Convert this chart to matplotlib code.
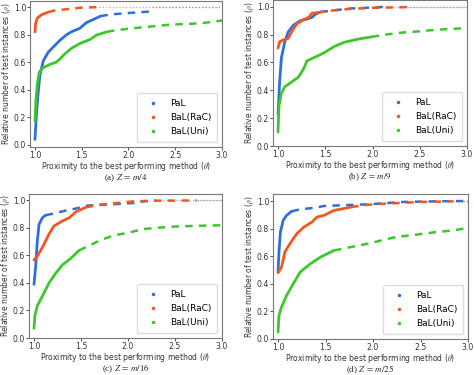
import matplotlib
matplotlib.use("Agg")
import matplotlib.pyplot as plt
from matplotlib.lines import Line2D

plt.rcParams['mathtext.fontset'] = 'stix'

series_names = ["PaL", "BaL(RaC)", "BaL(Uni)"]
colors = ["#2f6fdc", "#f2581e", "#3cc82a"]

# Panel (a) Z = m/4
a_pal_x = [1.0, 1.018, 1.036, 1.054, 1.09, 1.14, 1.196, 1.27, 1.34, 1.39, 1.48, 1.55, 1.625, 1.70, 1.80, 1.98, 2.2, 2.23, 2.25]
a_pal_y = [0.037, 0.245, 0.39, 0.51, 0.61, 0.67, 0.71, 0.76, 0.80, 0.82, 0.846, 0.887, 0.91, 0.934, 0.946, 0.956, 0.966, 0.97, 1.0]
a_rac_x = [1.0, 1.007, 1.025, 1.07, 1.14, 1.196, 1.34, 1.48, 1.68]
a_rac_y = [0.82, 0.88, 0.92, 0.944, 0.963, 0.973, 0.985, 0.995, 1.0]
a_uni_x = [1.0, 1.01, 1.025, 1.046, 1.09, 1.16, 1.23, 1.27, 1.32, 1.39, 1.48, 1.59, 1.66, 1.77, 1.875, 2.05, 2.23, 2.41, 2.59, 2.77, 3.0]
a_uni_y = [0.17, 0.32, 0.44, 0.527, 0.56, 0.583, 0.60, 0.625, 0.66, 0.70, 0.735, 0.765, 0.797, 0.82, 0.833, 0.846, 0.858, 0.87, 0.877, 0.882, 0.902]

# Panel (b) Z = m/9
b_pal_x = [1.0, 1.018, 1.036, 1.072, 1.108, 1.16, 1.234, 1.306, 1.36, 1.396, 1.45, 1.595, 1.775, 2.15]
b_pal_y = [0.227, 0.47, 0.634, 0.75, 0.82, 0.866, 0.90, 0.912, 0.924, 0.947, 0.963, 0.975, 0.988, 1.0]
b_rac_x = [1.0, 1.018, 1.054, 1.108, 1.144, 1.198, 1.27, 1.324, 1.36, 1.414, 1.595, 1.775, 2.03, 2.39]
b_rac_y = [0.703, 0.75, 0.761, 0.773, 0.82, 0.877, 0.907, 0.924, 0.954, 0.958, 0.975, 0.986, 0.993, 0.998]
b_uni_x = [1.0, 1.01, 1.036, 1.072, 1.144, 1.216, 1.27, 1.306, 1.378, 1.486, 1.595, 1.70, 1.847, 1.99, 2.135, 2.315, 2.495, 2.676, 2.856, 3.0]
b_uni_y = [0.10, 0.285, 0.38, 0.426, 0.46, 0.495, 0.553, 0.611, 0.634, 0.669, 0.715, 0.745, 0.768, 0.784, 0.80, 0.815, 0.824, 0.835, 0.842, 0.847]

# Panel (c) Z = m/16
c_pal_x = [1.0, 1.018, 1.036, 1.054, 1.09, 1.125, 1.196, 1.34, 1.446, 1.55, 1.875, 2.05, 2.16, 2.30]
c_pal_y = [0.39, 0.52, 0.709, 0.827, 0.875, 0.893, 0.903, 0.927, 0.941, 0.962, 0.974, 0.981, 0.993, 1.0]
c_rac_x = [1.0, 1.036, 1.09, 1.16, 1.214, 1.30, 1.375, 1.446, 1.55, 1.70, 1.875, 2.05, 2.23, 2.73]
c_rac_y = [0.567, 0.595, 0.66, 0.756, 0.815, 0.85, 0.874, 0.917, 0.95, 0.969, 0.981, 0.993, 0.998, 1.0]
c_uni_x = [1.0, 1.01, 1.036, 1.09, 1.16, 1.23, 1.30, 1.39, 1.48, 1.59, 1.70, 1.84, 2.02, 2.16, 2.34, 2.52, 2.70, 3.0]
c_uni_y = [0.07, 0.165, 0.235, 0.306, 0.40, 0.47, 0.53, 0.578, 0.637, 0.673, 0.709, 0.744, 0.768, 0.792, 0.803, 0.811, 0.815, 0.82]

# Panel (d) Z = m/25
d_pal_x = [1.0, 1.01, 1.025, 1.054, 1.09, 1.143, 1.233, 1.376, 1.484, 1.663, 1.95, 2.31, 2.667, 2.95]
d_pal_y = [0.485, 0.63, 0.775, 0.86, 0.896, 0.925, 0.94, 0.95, 0.964, 0.969, 0.976, 0.993, 0.998, 1.0]
d_rac_x = [1.0, 1.036, 1.072, 1.125, 1.197, 1.27, 1.358, 1.41, 1.484, 1.59, 1.77, 1.95, 2.13, 2.49, 2.846]
d_rac_y = [0.48, 0.52, 0.63, 0.69, 0.763, 0.81, 0.848, 0.884, 0.896, 0.932, 0.956, 0.973, 0.981, 0.993, 0.998]
d_uni_x = [1.0, 1.01, 1.036, 1.09, 1.16, 1.233, 1.34, 1.448, 1.59, 1.77, 1.95, 2.09, 2.237, 2.45, 2.667, 2.846, 2.99]
d_uni_y = [0.05, 0.17, 0.23, 0.315, 0.40, 0.485, 0.545, 0.594, 0.642, 0.667, 0.691, 0.715, 0.739, 0.756, 0.775, 0.787, 0.804]

captions = [r"(a) $Z\,=\,m/4$", r"(b) $Z\,=\,m/9$", r"(c) $Z\,=\,m/16$", r"(d) $Z\,=\,m/25$"]
xticks = [1.0, 1.5, 2.0, 2.5, 3.0]
yticks = [0.0, 0.2, 0.4, 0.6, 0.8, 1.0]
xlabel = r"Proximity to the best performing method ($\theta$)"
ylabel = r"Relative number of test instances ($\rho$)"

panels = [
    [(a_pal_x, a_pal_y), (a_rac_x, a_rac_y), (a_uni_x, a_uni_y)],
    [(b_pal_x, b_pal_y), (b_rac_x, b_rac_y), (b_uni_x, b_uni_y)],
    [(c_pal_x, c_pal_y), (c_rac_x, c_rac_y), (c_uni_x, c_uni_y)],
    [(d_pal_x, d_pal_y), (d_rac_x, d_rac_y), (d_uni_x, d_uni_y)],
]
# x beyond which the markers become sparse (drawn dashed)
dense_end = [
    [1.70, 1.15, 1.80],
    [1.50, 1.50, 2.10],
    [1.15, 1.60, 1.55],
    [1.15, 1.80, 1.60],
]

W, H = 474, 375
fig = plt.figure(figsize=(W / 100, H / 100), dpi=100)

# axes boxes in pixels: left, right, top, bottom
boxes = [(30, 222, 0.5, 147), (273, 467, 0.4, 146), (29, 222, 194, 338), (273, 468, 194.4, 339)]
ylims = [(-0.018, 1.048), (0.034, 1.046), (0.017, 1.047), (0.003, 1.048)]

def plot_series(ax, x, y, color, cut):
    i = 0
    while i < len(x) and x[i] <= cut:
        i += 1
    xs, ys = x[:i], y[:i]
    ax.plot(xs, ys, '-', color=color, lw=2.0, solid_capstyle='round', zorder=3)
    if i < len(x):
        xt, yt = x[i - 1:], y[i - 1:]
        ax.plot(xt, yt, color=color, lw=1.8, dashes=(3, 2.5), zorder=3)
    if y[-1] >= 0.995 and x[-1] < 3.0:
        ax.plot([x[-1], 3.2], [1.0, 1.0], ':', color=color, lw=0.9, alpha=0.6, zorder=2)

for k, (l, r, t, b) in enumerate(boxes):
    ax = fig.add_axes([l / W, 1 - b / H, (r - l) / W, (b - t) / H])
    for j, (x, y) in enumerate(panels[k]):
        plot_series(ax, x, y, colors[j], dense_end[k][j])
    ax.set_xlim(0.947, 3.0)
    ax.set_ylim(*ylims[k])
    ax.set_xticks(xticks)
    ax.set_yticks(yticks)
    ax.tick_params(labelsize=5.6, length=2, width=0.6, pad=0.8, colors='#333333')
    for s in ax.spines.values():
        s.set_color('#777777')
        s.set_linewidth(0.8)
    ax.set_xlabel(xlabel, fontsize=5.5, labelpad=0.0, color='#333333')
    ax.set_ylabel(ylabel, fontsize=5.5, labelpad=0.8, color='#333333')
    handles = [Line2D([], [], ls='none', marker='.', ms=3, color=c) for c in colors]
    ax.legend(handles, series_names, loc='lower right', fontsize=6.5, handlelength=2.0,
              borderpad=0.7, labelspacing=0.55, handletextpad=0.9, framealpha=1.0,
              borderaxespad=0.5, edgecolor='#dddddd', fancybox=True)
    cy = b + 31
    fig.text((l + r) / 2 / W, 1 - cy / H, captions[k], ha='center', va='center',
             fontsize=6.5, family='Liberation Serif', color='#222222')

fig.savefig("out.png", dpi=100)
